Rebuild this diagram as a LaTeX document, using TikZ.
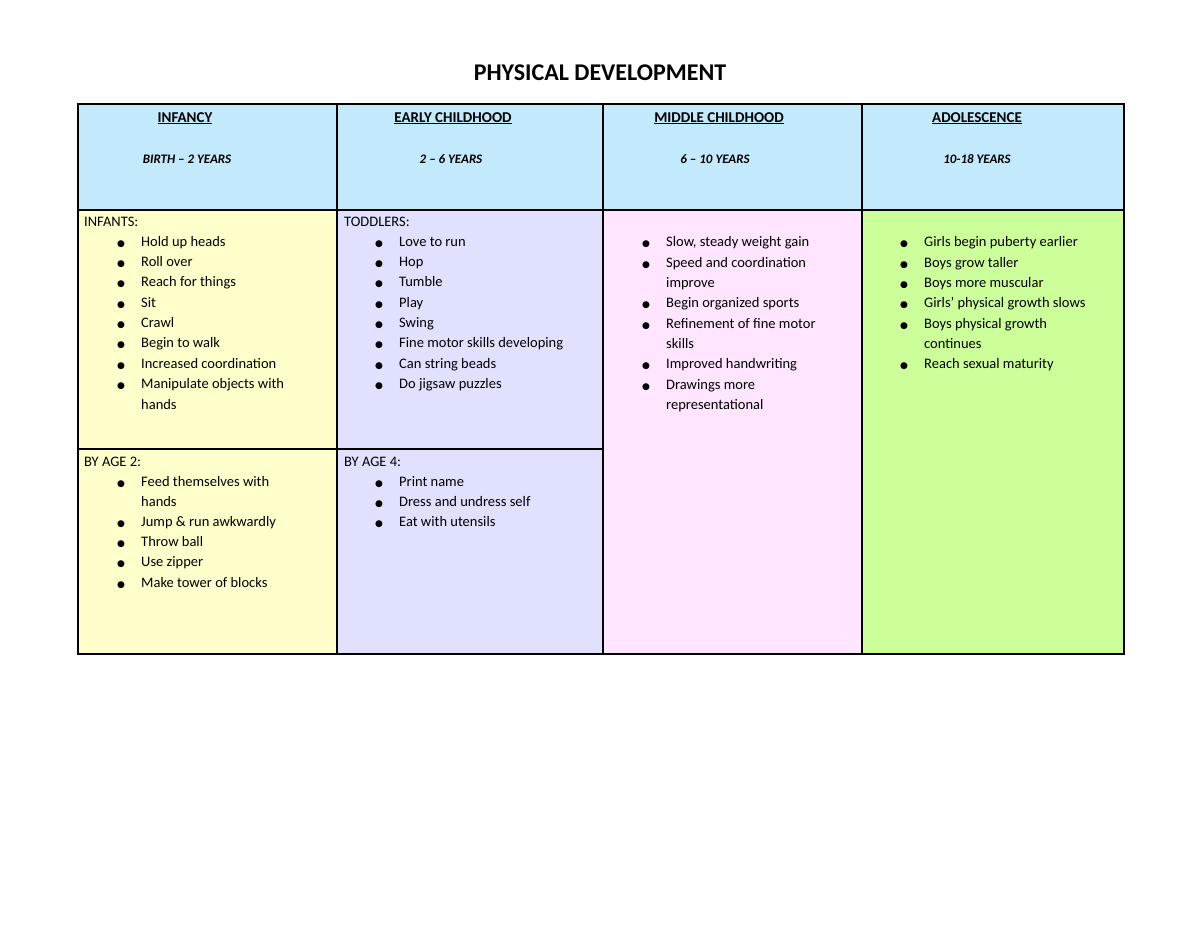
\documentclass[tikz,border=0pt]{standalone}
\usepackage{fontspec}
\setmainfont{Carlito}
\newfontfamily\symf{DejaVu Sans}
\definecolor{hdr}{HTML}{C2E9FC}
\definecolor{yel}{HTML}{FFFFCC}
\definecolor{lav}{HTML}{E0E0FF}
\definecolor{pnk}{HTML}{FFE5FF}
\definecolor{grn}{HTML}{CCFF99}
\tikzset{txt/.style={anchor=base west,inner sep=0pt,font=\fontsize{14.5}{17}\selectfont},
 hd/.style={anchor=base,inner sep=0pt,font=\fontsize{15}{18}\selectfont\bfseries},
 yr/.style={anchor=base,inner sep=0pt,font=\fontsize{13}{16}\selectfont\bfseries\itshape},
 grid/.style={draw=black,line width=1.2pt}}
\newcommand{\bl}[4]{% x, y, name, text
 \node[txt] (#3b) at (#1,#2) {\symf\fontsize{9}{10}\selectfont ●};
 \node[txt] (#3) at (#1+24,#2) {#4};}
\begin{document}
\begin{tikzpicture}[x=1pt,y=-1pt]
\useasboundingbox (0,0) rectangle (1200,927);
\fill[hdr] (78,104) rectangle (1124,210);
\fill[yel] (78,210) rectangle (337,654);
\fill[lav] (337,210) rectangle (603,654);
\fill[pnk] (603,210) rectangle (862,654);
\fill[grn] (862,210) rectangle (1124,654);
\draw[grid] (78,104) rectangle (1124,654);
\draw[grid] (78,210) -- (1124,210);
\draw[grid] (78,449) -- (603,449);
\foreach \x in {337,603,862} \draw[grid] (\x,104) -- (\x,654);
\node[anchor=base,font=\fontsize{24}{28}\selectfont\bfseries] (title) at (600,80) {PHYSICAL DEVELOPMENT};
\node[hd] (h1) at (185,122) {\underline{INFANCY}};
\node[hd] (h2) at (453,122) {\underline{EARLY CHILDHOOD}};
\node[hd] (h3) at (719,122) {\underline{MIDDLE CHILDHOOD}};
\node[hd] (h4) at (977,122) {\underline{ADOLESCENCE}};
\node[yr] (y1) at (187,163) {BIRTH -- 2 YEARS};
\node[yr] (y2) at (451,163) {2 -- 6 YEARS};
\node[yr] (y3) at (715,163) {6 -- 10 YEARS};
\node[yr] (y4) at (977,163) {10-18 YEARS};
% infancy
\node[txt] (i0) at (84,226) {INFANTS:};
\foreach \t [count=\i] in {Hold up heads,Roll over,Reach for things,Sit,Crawl,Begin to walk,Increased coordination,Manipulate objects with}
 {\bl{117}{226+20.3*\i}{ia\i}{\t}}
\node[txt] (ic) at (141,409) {hands};
\node[txt] (j0) at (84,466) {BY AGE 2:};
\bl{117}{486}{ja1}{Feed themselves with}
\node[txt] (jc) at (141,506) {hands};
\foreach \t [count=\i] in {Jump \& run awkwardly,Throw ball,Use zipper,Make tower of blocks}
 {\bl{117}{506+20.3*\i}{jb\i}{\t}}
% early
\node[txt] (e0) at (344,226) {TODDLERS:};
\foreach \t [count=\i] in {Love to run,Hop,Tumble,Play,Swing,Fine motor skills developing,Can string beads,Do jigsaw puzzles}
 {\bl{375}{226+20.3*\i}{ea\i}{\t}}
\node[txt] (f0) at (344,466) {BY AGE 4:};
\foreach \t [count=\i] in {Print name,Dress and undress self,Eat with utensils}
 {\bl{375}{466+20.3*\i}{fa\i}{\t}}
% middle
\bl{642}{246}{m1}{Slow, steady weight gain}
\bl{642}{267}{m2}{Speed and coordination}
\node[txt] (m2c) at (666,287) {improve};
\bl{642}{307}{m3}{Begin organized sports}
\bl{642}{328}{m4}{Refinement of fine motor}
\node[txt] (m4c) at (666,348) {skills};
\bl{642}{368}{m5}{Improved handwriting}
\bl{642}{389}{m6}{Drawings more}
\node[txt] (m6c) at (666,409) {representational};
% adolescence
\bl{900}{246}{a1}{Girls begin puberty earlier}
\bl{900}{267}{a2}{Boys grow taller}
\bl{900}{287}{a3}{Boys more muscular}
\bl{900}{307}{a4}{Girls’ physical growth slows}
\bl{900}{328}{a5}{Boys physical growth}
\node[txt] (a5c) at (924,348) {continues};
\bl{900}{368}{a6}{Reach sexual maturity}
\end{tikzpicture}
\end{document}
